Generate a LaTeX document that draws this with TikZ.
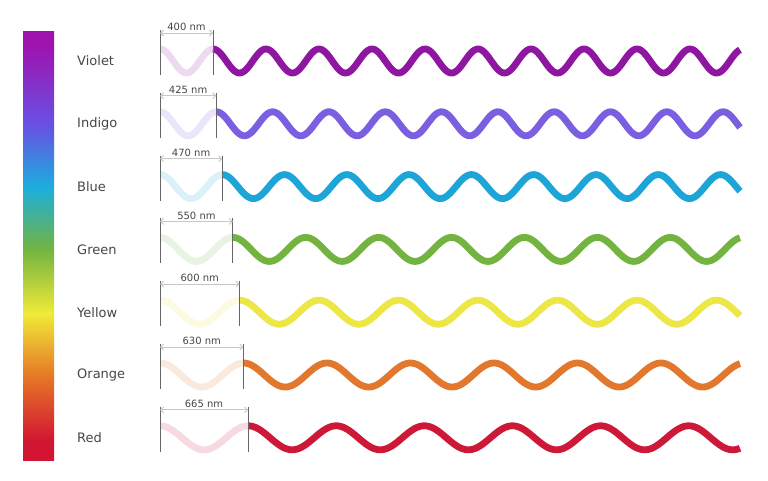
\documentclass[tikz,border=0pt]{standalone}
\usepackage{fontspec}
\setmainfont{DejaVu Sans}
\usepackage{tikz}
\usetikzlibrary{arrows.meta,calc}

\definecolor{cviolet}{RGB}{142,22,160}
\definecolor{cindigo}{RGB}{123,95,224}
\definecolor{cblue}{RGB}{30,165,216}
\definecolor{cgreen}{RGB}{115,180,65}
\definecolor{cyellow}{RGB}{236,230,70}
\definecolor{corange}{RGB}{226,120,45}
\definecolor{cred}{RGB}{205,25,55}
\definecolor{txtgray}{RGB}{70,70,70}

\pgfdeclareverticalshading{spectrum}{100bp}{%
  color(0bp)=(cred!90!red); color(27.3bp)=(cred!90!red);
  color(34.9bp)=(corange!85!orange); color(42.1bp)=(cyellow!80!yellow);
  color(49.5bp)=(cgreen); color(56.8bp)=(cblue!90!cyan);
  color(64bp)=(cindigo!85!blue); color(73.4bp)=(cviolet!85!magenta);
  color(100bp)=(cviolet!85!magenta)}

\tikzset{
  wave/.style={line width=6.8pt},
  gapbar/.style={draw=black!60, line width=1pt},
  dimline/.style={draw=black!22, line width=0.9pt, {Straight Barb[length=3pt,width=6pt]}-{Straight Barb[length=3pt,width=6pt]}},
  rowlabel/.style={anchor=west, inner sep=0pt, text=txtgray, font=\fontsize{13}{15}\selectfont},
  nmlabel/.style={text=txtgray, font=\fontsize{10}{12}\selectfont, inner sep=1pt}
}

\begin{document}
\begin{tikzpicture}[x=1pt,y=-1pt]
  \useasboundingbox (0,0) rectangle (768,480);
  % spectrum bar
  \shade[shading=spectrum] (23,31) rectangle (54,460);
  % one row per colour
  \foreach \i/\cname/\nm/\col in {0/Violet/400/cviolet, 1/Indigo/425/cindigo,
      2/Blue/470/cblue, 3/Green/550/cgreen, 4/Yellow/600/cyellow,
      5/Orange/630/corange, 6/Red/665/cred} {
    \pgfmathsetmacro\yc{61+62.8*\i}
    \pgfmathsetmacro\per{0.1325*\nm}
    \pgfmathsetmacro\k{360/\per}
    \node[rowlabel] (lab\i) at (77,\yc) {\cname};
    \draw[wave,\col!16] plot[domain=0:\per,samples=50] ({160+\x},{\yc-12*cos(\k*\x)});
    \draw[wave,\col] plot[domain=\per:580,samples=320] ({160+\x},{\yc-12*cos(\k*\x)});
    \coordinate (s\i) at (160,\yc-28);
    \coordinate (e\i) at (160+\per,\yc-28);
    \draw[gapbar] (s\i) ++(0,-3) -- ++(0,45);
    \draw[gapbar] (e\i) ++(0,-3) -- ++(0,45);
    \draw[dimline] (s\i) -- (e\i);
    \node[nmlabel,anchor=south] (nm\i) at ($(s\i)!0.5!(e\i)+(0,-1)$) {\nm\ nm};
  }
\end{tikzpicture}
\end{document}
